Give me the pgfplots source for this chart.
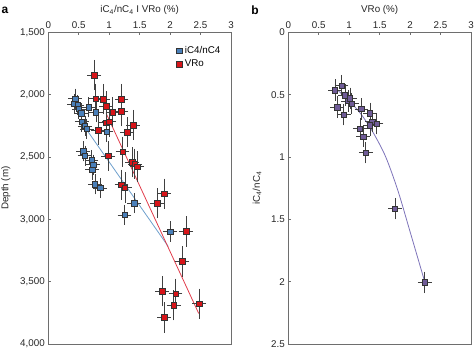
\documentclass[border=0pt]{standalone}
\usepackage{fontspec}
\setmainfont{Liberation Sans}
\usepackage{pgfplots}
\pgfplotsset{compat=1.18}
\definecolor{bluefill}{RGB}{74,128,186}
\definecolor{redfill}{RGB}{215,20,25}
\definecolor{bline}{RGB}{110,160,205}
\definecolor{rline}{RGB}{225,60,75}
\definecolor{pfill}{RGB}{112,92,152}
\definecolor{pline}{RGB}{125,115,185}
\definecolor{frame}{RGB}{110,110,110}
\pgfplotsset{
  panel/.style={
    scale only axis, width=182.7pt, height=311.7pt,
    y dir=reverse, xmin=0, xmax=3,
    xtick={0,0.5,1,1.5,2,2.5,3}, xticklabels={0,0.5,1,1.5,2,2.5,3},
    xtick pos=right, xticklabel pos=right, ytick pos=left,
    axis line style={frame, line width=0.9pt},
    major tick style={frame, line width=0.7pt}, major tick length=3pt,
    tick label style={font=\fontsize{9.8}{11}\selectfont, text=black!85},
    label style={font=\fontsize{9.8}{11}\selectfont, text=black!85},
    /pgf/number format/assume math mode=true,
  },
  ebar/.style={error bars/.cd, x dir=both, x fixed=0.08, y dir=both, y fixed=#1,
    error bar style={black!75, line width=0.6pt},
    error mark options={black!75, mark size=2pt, line width=0.6pt}},
}
\begin{document}
\begin{tikzpicture}
\path[use as bounding box] (0,0) rectangle (474pt,350pt);
\begin{axis}[panel, at={(48.3pt,6pt)}, anchor=south west,
  ymin=1500, ymax=4000,
  ytick={1500,2000,2500,3000,3500,4000},
  yticklabels={{1,500},{2,000},{2,500},{3,000},{3,500},{4,000}},
  xlabel={iC\textsubscript{4}/nC\textsubscript{4} I VRo (\%)},
  ylabel={Depth (m)},
  ylabel style={yshift=3pt},
  legend style={at={(0.695,0.965)}, anchor=north west, draw=none, fill=none,
    font=\fontsize{9.8}{11}\selectfont, row sep=1pt, inner sep=1pt,
    nodes={inner xsep=3pt}},
  legend cell align=left]
\addplot[bline, line width=0.8pt, forget plot] coordinates {(0.52,2205) (1.97,3218)};
\addplot[rline, line width=0.8pt, forget plot] coordinates {(0.95,2150) (2.47,3755)};
\addplot[only marks, mark=square*, mark size=2.7pt, mark options={fill=bluefill, draw=black!80, line width=0.4pt}, forget plot, ebar=65] coordinates {
(0.44,2032) (0.42,2075) (0.48,2083) (0.50,2115) (0.54,2150) (0.66,2101) (0.78,2140)
(0.55,2216) (0.60,2250) (0.63,2275) (0.957,2295) (0.57,2455) (0.60,2490) (0.71,2525)
(0.74,2562) (0.72,2600) (0.766,2718) (0.85,2748) (1.41,2870) (1.25,2964) (2.00,3097)
};
\addplot[only marks, mark=square*, mark size=2.8pt, mark options={fill=redfill, draw=black!80, line width=0.4pt}, forget plot, ebar=105] coordinates {
(0.754,1842) (0.777,2032) (0.90,2035) (1.20,2035) (0.946,2095) (1.20,2133) (1.055,2142)
(0.946,2224) (1.00,2216) (1.39,2243) (0.82,2283) (1.295,2301) (0.984,2491) (1.22,2457)
(1.38,2542) (1.42,2555) (1.46,2577) (1.20,2723) (1.257,2745) (1.90,2795) (1.79,2870)
(2.26,3097) (2.20,3338) (1.87,3578) (2.09,3597) (2.06,3690) (2.48,3677) (1.90,3787)
};
\addlegendimage{only marks, mark=square*, mark size=2.7pt, mark options={fill=bluefill, draw=black!80}}
\addlegendentry{iC4/nC4}
\addlegendimage{only marks, mark=square*, mark size=2.7pt, mark options={fill=redfill, draw=black!80}}
\addlegendentry{VRo}
\end{axis}
\begin{axis}[panel, at={(288.3pt,6pt)}, anchor=south west,
  ymin=0, ymax=2.5,
  ytick={0,0.5,1,1.5,2,2.5}, yticklabels={0,0.5,1,1.5,2,2.5},
  xlabel={VRo (\%)},
  ylabel={iC\textsubscript{4}/nC\textsubscript{4}},
  ylabel style={yshift=3pt}]
\addplot[pline, line width=0.8pt, smooth, forget plot] coordinates {
(0.80,0.46) (1.0,0.55) (1.2,0.66) (1.4,0.81) (1.6,1.0) (1.8,1.27) (2.0,1.6) (2.24,2.0)};
\addplot[only marks, mark=square*, mark size=2.7pt, mark options={fill=pfill, draw=black!80, line width=0.4pt}, ebar=0.07] coordinates {
(0.766,0.464) (0.875,0.428) (0.93,0.504) (0.984,0.55) (1.04,0.571) (1.01,0.53) (0.80,0.600)
(0.91,0.660) (1.20,0.615) (1.34,0.650) (1.38,0.715) (1.45,0.732) (1.34,0.745)
(1.175,0.772) (1.23,0.835) (1.27,0.965) (1.75,1.415) (2.24,2.005)
};
\end{axis}
\node[font=\bfseries\fontsize{12}{14}\selectfont] at (5pt,340pt) {a};
\node[font=\bfseries\fontsize{12}{14}\selectfont] at (255pt,340pt) {b};
\end{tikzpicture}
\end{document}
